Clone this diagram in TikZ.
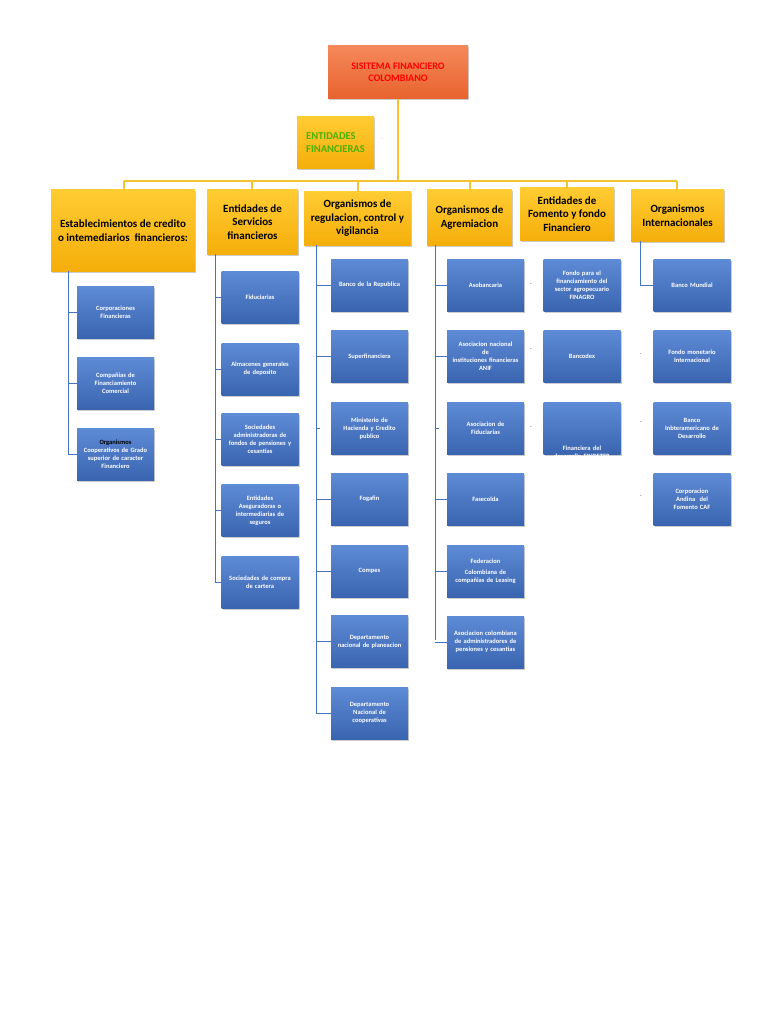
\documentclass[tikz,border=0pt]{standalone}
\usepackage{fontspec}
\setmainfont{Carlito}
\usetikzlibrary{shadows}
\definecolor{bl1}{HTML}{5E8BD6}\definecolor{bl2}{HTML}{3A64B0}
\definecolor{ye1}{HTML}{FFCC33}\definecolor{ye2}{HTML}{F5AE0A}
\definecolor{or1}{HTML}{F5885A}\definecolor{or2}{HTML}{E8632E}
\definecolor{lnY}{HTML}{F4C430}\definecolor{lnB}{HTML}{4472C4}
\begin{document}
\begin{tikzpicture}[x=1pt,y=-1pt,
 bx/.style={draw=none,drop shadow={shadow xshift=1pt,shadow yshift=-1.5pt,opacity=.4},inner sep=1pt,align=center},
 child/.style={bx,top color=bl1,bottom color=bl2,text=white,font=\fontsize{6.5}{8}\selectfont\bfseries,minimum width=77pt,minimum height=52pt,text width=75pt},
 head/.style={bx,top color=ye1,bottom color=ye2,text=black,font=\fontsize{11}{13.5}\selectfont\bfseries},
 yl/.style={lnY,line width=1.2pt},
 bl/.style={lnB,line width=1pt}]
\useasboundingbox (0,0) rectangle (768,1024);
\fill[white] (0,0) rectangle (768,1024);
% root
\node[bx,top color=or1,bottom color=or2,text=red,font=\fontsize{10}{12}\selectfont\bfseries,minimum width=140pt,minimum height=53pt] (root) at (398,72.5) {SISITEMA FINANCIERO\\COLOMBIANO};
\node[bx,top color=ye1,bottom color=ye2,text=green!55!black!70!yellow,font=\fontsize{10.5}{13}\selectfont\bfseries,minimum width=77pt,minimum height=52pt,align=left] (ef) at (335.5,143) {ENTIDADES\\FINANCIERAS};
\node[text=orange,font=\tiny] (dash) at (382,140) {-};
% headers
\node[head,minimum width=144pt,minimum height=81pt] (h1) at (123,230.5) {Establecimientos de credito\\o intemediarios\ \ financieros:};
\node[head,minimum width=91pt,minimum height=64pt] (h2) at (252.5,222) {Entidades de\\Servicios\\financieros};
\node[head,minimum width=107pt,minimum height=53pt] (h3) at (357.5,218.5) {Organismos de\\regulacion, control y\\vigilancia};
\node[head,minimum width=85pt,minimum height=55pt] (h4) at (469.5,217.5) {Organismos de\\Agremiacion};
\node[head,minimum width=94pt,minimum height=52pt] (h5) at (567,214) {Entidades de\\Fomento y fondo\\Financiero};
\node[head,minimum width=93pt,minimum height=51pt] (h6) at (677.5,215.5) {Organismos\\Internacionales};
% yellow connectors
\coordinate (bus) at (398,181);
\draw[yl] (root.south) -- (bus);
\draw[yl] (124,181) -- (677,181);
\foreach \h/\x in {h1/124,h2/252,h3/358,h4/470,h5/567,h6/677}{\draw[yl] (\x,181) -- (\x,0 |- \h.north);}
% column 1
\node[child] (a1) at (115.5,312) {Corporaciones\\Financieras};
\node[child] (a2) at (115.5,383.5) {Compañias de\\Financiamiento\\Comercial};
\node[child] (a3) at (115.5,454.5) {\textcolor{black}{Organismos}\\Cooperativos de Grado\\superior de caracter\\Financiero};
\draw[bl] (68,0 |- h1.south) -- (68,454.5);
\foreach \n in {a1,a2,a3}{\draw[bl] (68,0 |- \n.west) -- (\n.west);}
% column 2
\node[child] (b1) at (260,297) {Fiduciarias};
\node[child] (b2) at (260,369) {Almacenes generales\\de deposito};
\node[child] (b3) at (260,439.5) {Sociedades\\administradoras de\\fondos de pensiones y\\cesantias};
\node[child] (b4) at (260,510.5) {Entidades\\Aseguradoras o\\intermediarias de\\seguros};
\node[child] (b5) at (260,582) {Sociedades de compra\\de cartera};
\draw[bl] (215,0 |- h2.south) -- (215,582);
\foreach \n in {b1,b2,b3,b4,b5}{\draw[bl] (215,0 |- \n.west) -- (\n.west);}
% column 3
\node[child] (c1) at (369.5,285) {Banco de la Republica};
\node[child] (c2) at (369.5,356.5) {Superfinanciera};
\node[child] (c3) at (369.5,428.5) {Ministerio de\\Hacienda y Credito\\publico};
\node[child] (c4) at (369.5,499) {Fogafin};
\node[child] (c5) at (369.5,571) {Compes};
\node[child] (c6) at (369.5,641.5) {Departamento\\nacional de planeacion};
\node[child] (c7) at (369.5,713) {Departamento\\Nacional de\\cooperativas};
\draw[bl] (316,0 |- h3.south) -- (316,713);
\foreach \n in {c1,c2,c4,c5,c6,c7}{\draw[bl] (316,0 |- \n.west) -- (\n.west);}
\draw[bl] (316,428.5) -- (320,428.5);
% column 4
\node[child] (d1) at (485.5,285) {Asobancaria};
\node[child] (d2) at (485.5,356.5) {Asociacion nacional\\de\\instituciones financieras\\ANIF};
\node[child] (d3) at (485.5,428.5) {Asociacion de\\Fiduciarias};
\node[child] (d4) at (485.5,499) {Fasecolda};
\node[child] (d5) at (485.5,571) {Federacion\\[3pt]Colombiana de\\compañias de Leasing};
\node[child] (d6) at (485.5,642) {Asociacion colombiana\\de administradores de\\pensiones y cesantias};
\draw[bl] (435,0 |- h4.south) -- (435,640);
\foreach \n in {d1,d2,d4,d5,d6}{\draw[bl] (435,0 |- \n.west) -- (\n.west);}
\draw[bl] (435,428.5) -- (439,428.5);
% column 5
\node[child] (e1) at (582,285) {Fondo para el\\financiamiento del\\sector agropecuario\\FINAGRO};
\node[child] (e2) at (582,356.5) {Bancodex};
\node[child,text depth=0pt] (e3) at (582,428.5) {\\[14pt]Financiera del\\desarrollo FINDETER};
\foreach \y/\n in {285/p1,350/p2,428/p3}{\node[font=\tiny,inner sep=0] (\n) at (531,\y) {-};}
% column 6
\node[child] (f1) at (692,285) {Banco Mundial};
\node[child] (f2) at (692,356.5) {Fondo monetario\\Internacional};
\node[child] (f3) at (692,428.5) {Banco\\Inbteramericano de\\Desarrollo};
\node[child] (f4) at (692,499) {Corporacion\\Andina\ \ del\\Fomento CAF};
\draw[bl] (640,0 |- h6.south) -- (640,285) -- (f1.west);
\foreach \y/\n in {355/q1,423/q2,497/q3}{\node[font=\tiny,inner sep=0] (\n) at (641,\y) {-};}
\end{tikzpicture}
\end{document}
